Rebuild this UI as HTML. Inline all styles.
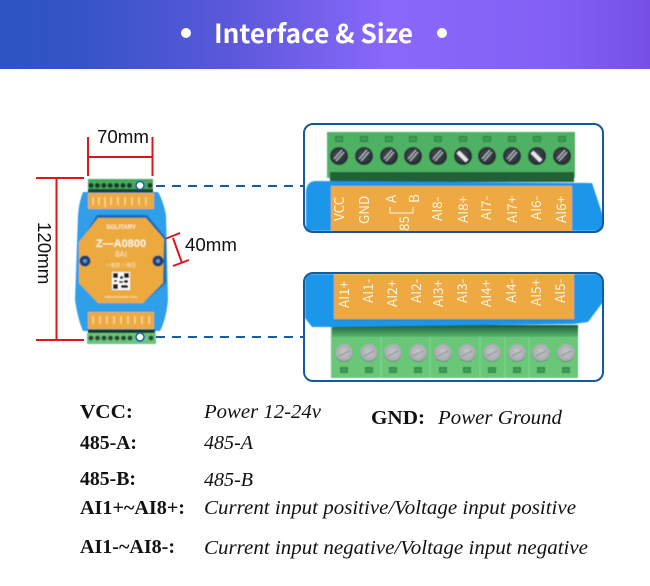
<!DOCTYPE html>
<html><head><meta charset="utf-8"><style>
html,body{margin:0;padding:0;background:#fff}
svg{display:block}
</style></head><body>
<svg xmlns="http://www.w3.org/2000/svg" width="650" height="586" viewBox="0 0 650 586">
<defs>
<linearGradient id="hd" x1="0" y1="0" x2="1" y2="0">
<stop offset="0" stop-color="#2b55c2"/><stop offset=".12" stop-color="#3554c6"/><stop offset=".35" stop-color="#5a58da"/><stop offset=".6" stop-color="#8a68fb"/><stop offset=".85" stop-color="#8360f5"/><stop offset="1" stop-color="#7650e6"/>
</linearGradient>
<linearGradient id="gs1" x1="0" y1="0" x2="0" y2="1"><stop offset="0" stop-color="#1e5a34"/><stop offset="1" stop-color="#2f8a4c"/></linearGradient>
<linearGradient id="gs2" x1="0" y1="0" x2="0" y2="1"><stop offset="0" stop-color="#1c5c38"/><stop offset="1" stop-color="#5ab56e"/></linearGradient>
<radialGradient id="sd" cx=".45" cy=".45" r=".6"><stop offset="0" stop-color="#4a5058"/><stop offset=".75" stop-color="#2a3036"/><stop offset="1" stop-color="#12261c"/></radialGradient>
<radialGradient id="sl" cx=".5" cy=".45" r=".6"><stop offset="0" stop-color="#c6c8ca"/><stop offset=".78" stop-color="#a8acae"/><stop offset="1" stop-color="#2c5a3c"/></radialGradient>
<g id="d"><circle r="9" fill="url(#sd)"/><path d="M-5 3L3-6M-3 5L5-4" stroke="#b9bfc4" stroke-width="1.300"/></g>
<g id="db"><circle r="9" fill="url(#sd)"/><path d="M-5-4L4 5" stroke="#e6e8ea" stroke-width="4"/></g>
<g id="l"><circle r="9" fill="url(#sl)"/><path d="M-5 3L5-2" stroke="#8a9094" stroke-width="1"/></g>
<g id="w"><rect x="-3.500" y="-2.500" width="7" height="5" fill="#3e9c55" stroke="#25803e" stroke-width="1"/></g>
<filter id="b" x="-5%" y="-5%" width="110%" height="110%"><feGaussianBlur stdDeviation=".45"/></filter>
</defs>

<rect width="650" height="69" fill="url(#hd)"/>
<circle cx="186" cy="33" r="5" fill="#fff"/>
<circle cx="442" cy="33" r="5" fill="#fff"/>
<text x="214" y="43" font-family="'Noto Sans CJK SC','Liberation Sans',sans-serif" font-weight="700" font-size="26" fill="#fff" textLength="199" lengthAdjust="spacingAndGlyphs">Interface &amp; Size</text>

<!-- Red dimensions -->
<g stroke="#e0141c" stroke-width="2" fill="none">
<path d="M88 137V176M152.500 137V176M88 157H152.500"/>
<path d="M36 178H84M36 340H84M56.500 178V340"/>
<path d="M173 238L182 263M165 239L180 233M173 266L189 260"/>
</g>
<g font-family="'Liberation Sans',sans-serif" font-size="18.700" fill="#111">
<text x="97" y="143">70mm</text>
<text x="185" y="251">40mm</text>
<text transform="translate(38 222) rotate(90)">120mm</text>
</g>

<!-- Device -->
<g filter="url(#b)">
<path d="M83 192H158Q163 200 166 215L168 300Q166 320 160 331H83Q78 320 75 300L78 215Q79 202 83 192Z" fill="#2f9fe8"/>
<path d="M97 215H147L166 238V283L143 303H98L80 283V243Z" fill="#1a6cb0"/>
<path d="M98 218H146L164 239L163 283L143 303H98L79 283V242Z" fill="#eca93e"/>
<rect x="88" y="193" width="66" height="16" rx="1" fill="#eeaa42"/>
<rect x="88" y="312" width="66" height="17" rx="1" fill="#eeaa42"/>
<path d="M93 197v8M99 197v8M105 197v10M111 197v8M118 197v8M125 197v8M132 197v8M139 197v8M146 197v8M93 316v8M100 316v8M107 316v8M114 316v8M121 316v8M128 316v8M135 316v8M142 316v8M149 316v8" stroke="#f7d79a" stroke-width="1.500"/>
<rect x="88" y="179" width="65" height="12" fill="#46a85e"/>
<rect x="88" y="189" width="65" height="3.500" fill="#15472a"/>
<rect x="87" y="333" width="69" height="11" fill="#6cc47c"/>
<rect x="88" y="329.500" width="67" height="3.500" fill="#133a24"/>
<g fill="#163a28">
<circle cx="91" cy="185.500" r="2.500"/><circle cx="97.400" cy="185.500" r="2.500"/><circle cx="103.800" cy="185.500" r="2.500"/><circle cx="110.200" cy="185.500" r="2.500"/><circle cx="116.600" cy="185.500" r="2.500"/><circle cx="123" cy="185.500" r="2.500"/><circle cx="129.400" cy="185.500" r="2.500"/><circle cx="150" cy="185.500" r="2.500"/>
</g>
<g fill="#2c4a38">
<circle cx="91" cy="338" r="2.500"/><circle cx="97.500" cy="338" r="2.500"/><circle cx="104" cy="338" r="2.500"/><circle cx="110.500" cy="338" r="2.500"/><circle cx="117" cy="338" r="2.500"/><circle cx="123.500" cy="338" r="2.500"/><circle cx="130" cy="338" r="2.500"/><circle cx="151" cy="338" r="2.500"/>
</g>
<circle cx="85" cy="261" r="5.500" fill="#12407c"/><circle cx="85" cy="261" r="2" fill="#6d93b4"/>
<circle cx="158" cy="261" r="5.500" fill="#12407c"/><circle cx="158" cy="261" r="2" fill="#6d93b4"/>
<rect x="112" y="272" width="18" height="18" fill="#fff"/>
<path d="M113 273h5v5h-5zM124 273h5v5h-5zM113 284h5v5h-5zM120 276h3v3h-3zM119 281h4v2h-4zM124 280h4v3h-4zM121 285h7v3h-7zM114 280h3v2h-3z" fill="#222"/>
<g font-family="'Liberation Sans','Noto Sans CJK SC',sans-serif" fill="#fff" text-anchor="middle">
<text x="121" y="229" font-size="6" font-weight="700" fill="#f8eed0">SOLITARY</text>
<text x="121" y="247" font-size="11" font-weight="700" fill="#fff6e0">Z—A0800</text>
<text x="121" y="257" font-size="8" fill="#fbe9c4">8AI</text>
<text x="121" y="267" font-size="5" fill="#fbe9c4">□ 电流 □ 电压</text>
<text x="121" y="298" font-size="4" fill="#fff3d8">www.bcrouter.com</text>
</g>
</g>

<!-- Dashed connectors -->
<g stroke="#1e5a9c" stroke-width="2" fill="none" stroke-dasharray="9 7">
<path d="M156 186H304"/><path d="M156 337H304"/>
</g>
<circle cx="140" cy="185.500" r="4" fill="#fff" stroke="#1d62a8" stroke-width="1.500"/>
<circle cx="140" cy="337" r="4" fill="#fff" stroke="#1d62a8" stroke-width="1.500"/>

<!-- Panel 1 -->
<g filter="url(#b)">
<rect x="327" y="132" width="248" height="46" fill="#4fb163"/>
<rect x="330" y="172" width="244" height="10" fill="#226038"/>
<use href="#w" x="339" y="139"/><use href="#w" x="364" y="139"/><use href="#w" x="389" y="139"/><use href="#w" x="413" y="139"/><use href="#w" x="438" y="139"/><use href="#w" x="463" y="139"/><use href="#w" x="487" y="139"/><use href="#w" x="512" y="139"/><use href="#w" x="537" y="139"/><use href="#w" x="562" y="139"/>
<use href="#d" x="339" y="156"/><use href="#d" x="364" y="156"/><use href="#d" x="389" y="156"/><use href="#d" x="413" y="156"/><use href="#d" x="438" y="156"/><use href="#db" x="463" y="156"/><use href="#d" x="487" y="156"/><use href="#d" x="512" y="156"/><use href="#db" x="537" y="156"/><use href="#d" x="562" y="156"/>
<path d="M306 231V191Q307 181 316 181L592 183L603 216V226Q603 231 597 231Z" fill="#1f96e8"/>
<rect x="331" y="186" width="241" height="45.500" fill="#efa942"/>
<!-- Panel 2 -->
<rect x="331" y="326" width="247" height="52" fill="#68c878"/>
<rect x="332" y="325" width="246" height="12" fill="url(#gs2)"/>
<path d="M381 337V378M430 337V378M480 337V378M505 337V378M529 337V378" stroke="#8adb96" stroke-width=".8"/>
<use href="#l" x="344" y="353"/><use href="#l" x="369" y="353"/><use href="#l" x="393" y="353"/><use href="#l" x="418" y="353"/><use href="#l" x="443" y="353"/><use href="#l" x="467" y="353"/><use href="#l" x="492" y="353"/><use href="#l" x="517" y="353"/><use href="#l" x="541" y="353"/><use href="#l" x="566" y="353"/>
<use href="#w" x="344" y="370"/><use href="#w" x="369" y="370"/><use href="#w" x="393" y="370"/><use href="#w" x="418" y="370"/><use href="#w" x="443" y="370"/><use href="#w" x="467" y="370"/><use href="#w" x="492" y="370"/><use href="#w" x="517" y="370"/><use href="#w" x="541" y="370"/><use href="#w" x="566" y="370"/>
<path d="M305 282Q305 274 312 274H597Q603 274 603 282V302L588 322L574 324L334 327H312L305 318Z" fill="#1f96e8"/>
<rect x="334" y="274" width="240" height="46" fill="#efa942"/>
<path d="M334 320H574" stroke="#1e84d0" stroke-width="1.500"/>
</g>

<rect x="304" y="124" width="299" height="108" rx="9" fill="none" stroke="#155a9c" stroke-width="2"/>
<rect x="304" y="273" width="299" height="108" rx="9" fill="none" stroke="#155a9c" stroke-width="2"/>

<!-- Terminal labels -->
<g font-family="'Noto Sans CJK SC','Liberation Sans',sans-serif" font-size="13.500" fill="#fff5dc">
<text transform="translate(344 221) rotate(-90)">VCC</text>
<text transform="translate(369 224) rotate(-90)">GND</text>
<text transform="translate(396 203) rotate(-90)">A</text>
<text transform="translate(419 203) rotate(-90)">B</text>
<text transform="translate(409 231) rotate(-90)">85</text>
<text transform="translate(442 221) rotate(-90)">AI8-</text>
<text transform="translate(468 223) rotate(-90)">AI8+</text>
<text transform="translate(491 220) rotate(-90)">AI7-</text>
<text transform="translate(517 223) rotate(-90)">AI7+</text>
<text transform="translate(541 220) rotate(-90)">AI6-</text>
<text transform="translate(566 223) rotate(-90)">AI6+</text>
<text transform="translate(349 308) rotate(-90)">AI1+</text>
<text transform="translate(373 303) rotate(-90)">AI1-</text>
<text transform="translate(397 307) rotate(-90)">AI2+</text>
<text transform="translate(421 303) rotate(-90)">AI2-</text>
<text transform="translate(443 307) rotate(-90)">AI3+</text>
<text transform="translate(467 303) rotate(-90)">AI3-</text>
<text transform="translate(491 307) rotate(-90)">AI4+</text>
<text transform="translate(516 303) rotate(-90)">AI4-</text>
<text transform="translate(541 306) rotate(-90)">AI5+</text>
<text transform="translate(565 303) rotate(-90)">AI5-</text>
</g>
<path d="M390 207V213H413V207" fill="none" stroke="#fff5dc" stroke-width="1"/>

<!-- Legend -->
<g font-family="'Liberation Serif',serif" font-size="20.500" fill="#111">
<g font-weight="700">
<text x="80" y="418" textLength="53" lengthAdjust="spacingAndGlyphs">VCC:</text>
<text x="371" y="424" textLength="54" lengthAdjust="spacingAndGlyphs">GND:</text>
<text x="80" y="449" textLength="57" lengthAdjust="spacingAndGlyphs">485-A:</text>
<text x="80" y="485" textLength="56" lengthAdjust="spacingAndGlyphs">485-B:</text>
<text x="80" y="514" textLength="105" lengthAdjust="spacingAndGlyphs">AI1+~AI8+:</text>
<text x="80" y="553" textLength="95" lengthAdjust="spacingAndGlyphs">AI1-~AI8-:</text>
</g>
<g font-style="italic">
<text x="204" y="418" textLength="117" lengthAdjust="spacingAndGlyphs">Power 12-24v</text>
<text x="438" y="424" textLength="124" lengthAdjust="spacingAndGlyphs">Power Ground</text>
<text x="204" y="449" textLength="49" lengthAdjust="spacingAndGlyphs">485-A</text>
<text x="204" y="486" textLength="49" lengthAdjust="spacingAndGlyphs">485-B</text>
<text x="204" y="514" textLength="372" lengthAdjust="spacingAndGlyphs">Current input positive/Voltage input positive</text>
<text x="204" y="554" textLength="384" lengthAdjust="spacingAndGlyphs">Current input negative/Voltage input negative</text>
</g>
</g>
</svg>
</body></html>
